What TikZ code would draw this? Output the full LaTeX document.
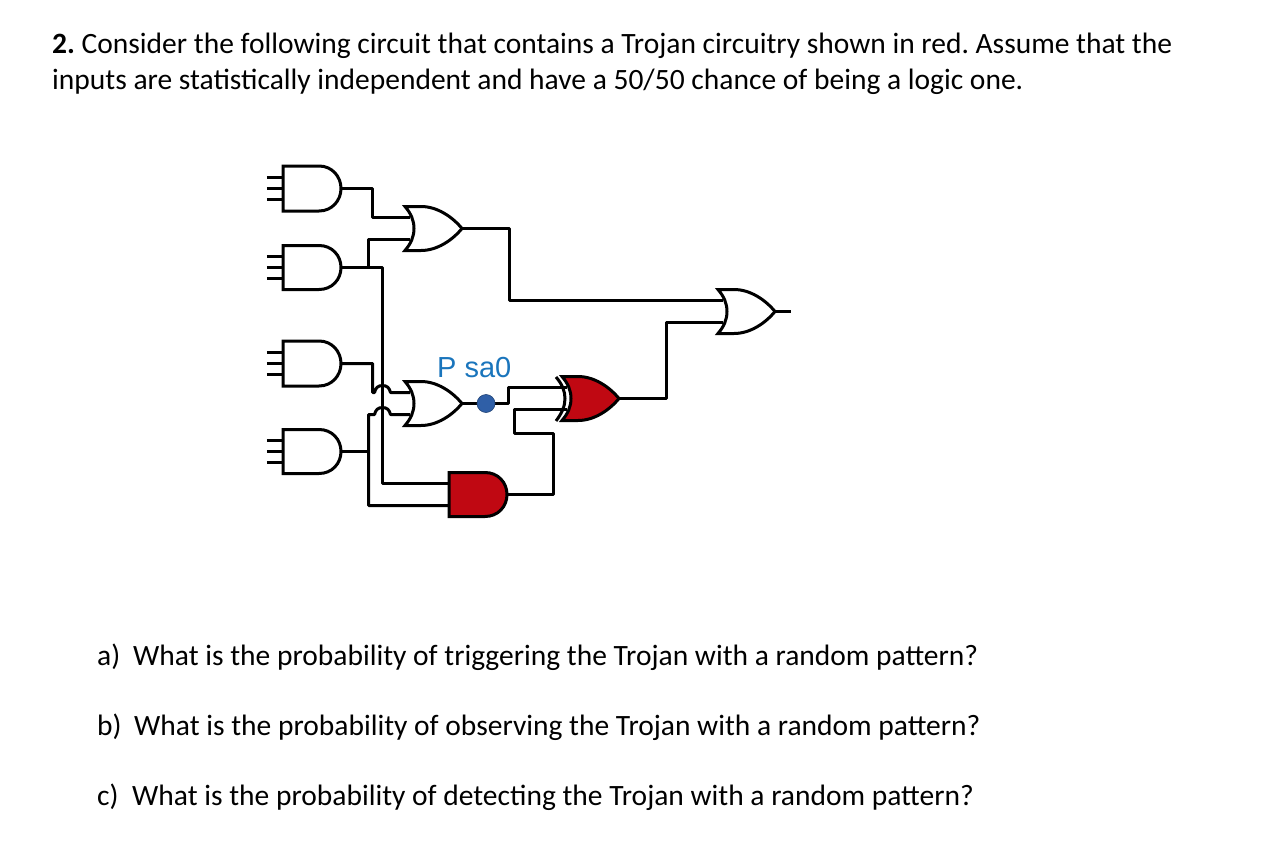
\documentclass[tikz,border=0pt]{standalone}
\usepackage{fontspec}
\setmainfont{Carlito}
\newfontfamily\labelfont{Liberation Sans}
\usetikzlibrary{backgrounds}
\definecolor{trojanred}{HTML}{C00812}
\definecolor{labelblue}{HTML}{1A75BC}
\definecolor{dotblue}{HTML}{2F5FA7}
\tikzset{
  wire/.style={draw=black,line width=3pt,line join=round},
  stub/.style={draw=black,line width=2.5pt},
  gateline/.style={draw=black,line width=3pt,line join=miter},
  txt/.style={anchor=base west,inner sep=0pt,font=\fontsize{29.5}{34}\selectfont},
  pin/.style={inner sep=0pt,minimum size=0pt}
}
% AND gate: name, left x, centre y, fill, half height
\newcommand{\andgate}[5]{%
  \begin{scope}[shift={(#2,#3)}]
    \path[gateline,fill=#4] (0,-#5) -- (36,-#5) .. controls (49,-#5) and (58,-12) .. (58,0)
      .. controls (58,12) and (49,#5) .. (36,#5) -- (0,#5) -- cycle;
    \node[pin,minimum width=58pt,minimum height=44pt] (#1) at (29,0) {};
    \coordinate (#1-out) at (58,0);
    \coordinate (#1-a) at (0,-11);
    \coordinate (#1-b) at (0,11);
  \end{scope}}
% OR gate: name, left x, centre y, fill
\newcommand{\orgate}[4]{%
  \begin{scope}[shift={(#2,#3)}]
    \path[gateline,fill=#4] (0,-22) .. controls (6,-15) and (9,-8) .. (9,0)
      .. controls (9,8) and (6,15) .. (0,22) -- (16,22)
      .. controls (32,22) and (47,12) .. (57,0)
      .. controls (47,-12) and (32,-22) .. (16,-22) -- cycle;
    \node[pin,minimum width=57pt,minimum height=44pt] (#1) at (28.5,0) {};
    \coordinate (#1-out) at (57,0);
    \coordinate (#1-a) at (5,-11);
    \coordinate (#1-b) at (5,11);
  \end{scope}}
% three input stubs of a first-level AND gate
\newcommand{\stubs}[1]{%
  \draw[stub] (#1.west) ++(-16,-11) -- ++(16,0);
  \draw[stub] (#1.west) ++(-16,0) -- ++(16,0);
  \draw[stub] (#1.west) ++(-16,11) -- ++(16,0);}
\begin{document}
\frenchspacing
\begin{tikzpicture}[x=1pt,y=-1pt]
\useasboundingbox (0,0) rectangle (1266,848);
% text
\node[txt] (q1) at (52,53.5) {\textbf{2.} Consider the following circuit that contains a Trojan circuitry shown in red. Assume that the};
\node[txt] (q2) at (52,90) {inputs are statistically independent and have a 50/50 chance of being a logic one.};
\node[txt] (al) at (97,665) {a)};
\node[txt] (at) at (133,665) {What is the probability of triggering the Trojan with a random pattern?};
\node[txt] (bl) at (97,735) {b)};
\node[txt] (bt) at (134,735) {What is the probability of observing the Trojan with a random pattern?};
\node[txt] (cl) at (97,805) {c)};
\node[txt] (ct) at (132,805) {What is the probability of detecting the Trojan with a random pattern?};
\node[anchor=base west,inner sep=0pt,text=labelblue,font=\labelfont\fontsize{29}{34}\selectfont] (psa) at (437,377) {P sa0};
% gates
\andgate{and1}{283}{188.5}{white}{22.5}
\andgate{and2}{283}{267.5}{white}{22}
\andgate{and3}{283}{363.5}{white}{22.5}
\andgate{and4}{283}{451.5}{white}{22}
\andgate{tand}{449}{494.5}{trojanred}{22}
\orgate{or1}{405}{228.5}{white}
\orgate{or2}{405}{403.5}{white}
\orgate{or3}{718}{311.5}{white}
\orgate{txor}{562}{398.5}{trojanred}
\stubs{and1}\stubs{and2}\stubs{and3}\stubs{and4}
% XOR back arc
\draw[gateline] (556,377) .. controls (562,384) and (565,391) .. (565,398.5)
  .. controls (565,406) and (562,413) .. (556,421);
% free points of the wires
\coordinate (a2x) at (368.5,267.5);
\coordinate (a2y) at (382.5,267.5);
\coordinate (hopA) at (372.5,392.5);
\coordinate (hopAe) at (390.5,392.5);
\coordinate (hopB) at (368.5,414.5);
\coordinate (hopBe) at (390.5,414.5);
\coordinate (w1) at (509.5,300.5);
\coordinate (w2) at (508.5,387.5);
\coordinate (w3) at (553.5,433.5);
\coordinate (w4) at (514.5,433.5);
\coordinate (w5) at (666.5,322.5);
\coordinate (out) at (791,311.5);
% wires, behind the gates
\begin{pgfonlayer}{background}
\draw[wire] (and1-out) -- (372.5,188.5) |- (or1-a);
\draw[wire] (and2-out) -- (a2y) -- (382.5,483.5) -- (tand-a);
\draw[wire] (a2x) |- (or1-b);
\draw[wire] (or1-out) -| (w1) -- (or3-a);
\draw[wire] (and3-out) -| (hopA) -- (374.5,392.5)
  .. controls (375.5,388) and (378,385.5) .. (382.5,385.5)
  .. controls (387,385.5) and (389.5,388) .. (hopAe) -- (or2-a);
\draw[wire] (and4-out) -- (368.5,451.5);
\draw[wire] (tand-b) -| (hopB) -- (374.5,414.5)
  .. controls (375.5,410) and (378,407.5) .. (382.5,407.5)
  .. controls (387,407.5) and (389.5,410) .. (hopBe) -- (or2-b);
\draw[wire] (or2-out) -- (508.5,403.5) -- (w2) -- (txor-a);
\draw[wire] (tand-out) -| (w3) -- (w4) |- (txor-b);
\draw[wire] (txor-out) -| (w5) -- (or3-b);
\draw[wire] (or3-out) -- (out);
\end{pgfonlayer}
% stuck-at site
\node[circle,fill=dotblue,draw=dotblue!70!black,line width=0.6pt,minimum size=18pt,inner sep=0pt] (site) at (486,403.5) {};
\end{tikzpicture}
\end{document}
